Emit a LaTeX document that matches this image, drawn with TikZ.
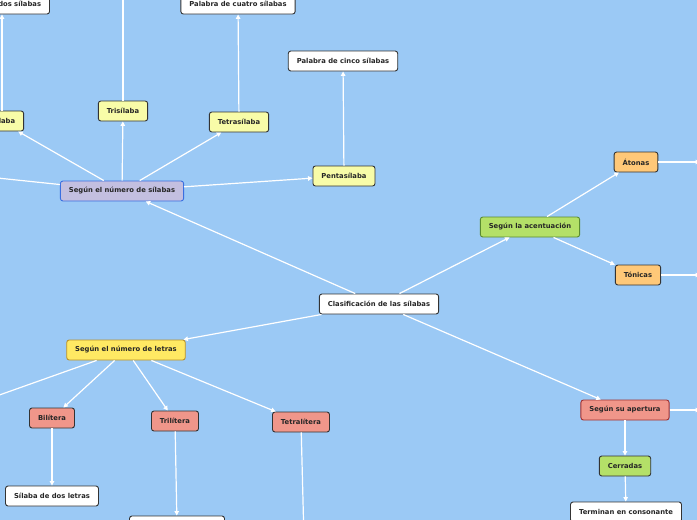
\documentclass[tikz,border=0pt]{standalone}
\usepackage{fontspec}
\setmainfont{DejaVu Sans}
\usetikzlibrary{positioning, arrows.meta}
\definecolor{sky}{HTML}{9BC9F5}
\definecolor{lila}{HTML}{C3BFE0}
\definecolor{lilaborde}{HTML}{3A6FE0}
\definecolor{crema}{HTML}{F8FCA8}
\definecolor{verde}{HTML}{B4E068}
\definecolor{verdeborde}{HTML}{5A8A30}
\definecolor{naranja}{HTML}{FFC878}
\definecolor{amarillo}{HTML}{FFE963}
\definecolor{amarilloborde}{HTML}{B8902A}
\definecolor{salmon}{HTML}{F0968A}
\definecolor{rojoborde}{HTML}{A03030}
\tikzset{
  idea/.style={draw=black!80, fill=white, line width=0.9pt, rounded corners=2.5pt,
    minimum height=20pt, inner xsep=8.5pt, inner ysep=0pt,
    font=\fontsize{6.8}{8}\selectfont\bfseries, text=black!85},
  edge/.style={draw=white, line width=1.2pt, -{Triangle[length=4.5pt,width=4.5pt]}}
}
\begin{document}
\begin{tikzpicture}[x=1pt, y=-1pt]
      \useasboundingbox (0,0) rectangle (697,520);
      \fill[sky] (0,0) rectangle (697,520);
      \clip (0,0) rectangle (697,520);

      \node[idea] (C0) at (379,304) {Clasificación de las sílabas};

      \node[idea, fill=lila, draw=lilaborde] (S0) at (122,191) {Según el número de sílabas};
      \node[idea, fill=crema] (S2) at (0,121) {Bisílaba};
      \node[idea, fill=crema] (S3) at (123,111) {Trisílaba};
      \node[idea, fill=crema] (S4) at (239,122) {Tetrasílaba};
      \node[idea, fill=crema] (S5) at (344,176) {Pentasílaba};
      \node[idea] (P2) at (-2,4) {Palabra de dos sílabas};
      \node[idea] (P4) at (238,4) {Palabra de cuatro sílabas};
      \node[idea] (P5) at (343,61) {Palabra de cinco sílabas};
      \coordinate (S1') at (-60,172);
      \coordinate (P3') at (123,-10);

      \node[idea, fill=verde, draw=verdeborde] (A0) at (530,227) {Según la acentuación};
      \node[idea, fill=naranja] (A1) at (636,162) {Átonas};
      \node[idea, fill=naranja] (A2) at (638,275) {Tónicas};
      \coordinate (A1') at (700,162);
      \coordinate (A2') at (700,275);

      \node[idea, fill=amarillo, draw=amarilloborde] (L0) at (126,350) {Según el número de letras};
      \node[idea, fill=salmon] (L2) at (52,418) {Bilítera};
      \node[idea, fill=salmon] (L3) at (175,421) {Trilítera};
      \node[idea, fill=salmon] (L4) at (301,422) {Tetralítera};
      \node[idea] (D2) at (52,496) {Sílaba de dos letras};
      \node[idea, minimum width=95pt] (D3) at (177,526) {};
      \coordinate (L1') at (-40,409);
      \coordinate (D4') at (304,540);

      \node[idea, fill=salmon, draw=rojoborde] (T0) at (625,410) {Según su apertura};
      \node[idea, fill=verde] (T1) at (625,466) {Cerradas};
      \node[idea] (T2) at (626,512) {Terminan en consonante};
      \coordinate (T0') at (700,410);

      \draw[edge] (C0) -- (S0);
      \draw[edge] (C0) -- (A0);
      \draw[edge] (C0) -- (L0);
      \draw[edge] (C0) -- (T0);

      \draw[edge] (S0) -- (S1');
      \draw[edge] (S0) -- (S2);
      \draw[edge] (S0) -- (S3);
      \draw[edge] (S0) -- (S4);
      \draw[edge] (S0) -- (S5);
      \draw[edge] (S2.north -| 2,0) -- (P2.south -| 2,0);
      \draw[edge] (S3) -- (P3');
      \draw[edge] (S4) -- (P4);
      \draw[edge] (S5) -- (P5);

      \draw[edge] (A0) -- (A1);
      \draw[edge] (A0) -- (A2);
      \draw[edge] (A1) -- (A1');
      \draw[edge] (A2) -- (A2');

      \draw[edge] (L0) -- (L1');
      \draw[edge] (L0) -- (L2);
      \draw[edge] (L0) -- (L3);
      \draw[edge] (L0) -- (L4);
      \draw[edge] (L2) -- (D2);
      \draw[edge] (L3) -- (D3);
      \draw[edge] (L4) -- (D4');

      \draw[edge] (T0) -- (T1);
      \draw[edge] (T0) -- (T0');
      \draw[edge] (T1) -- (T2);
    \end{tikzpicture}
\end{document}
